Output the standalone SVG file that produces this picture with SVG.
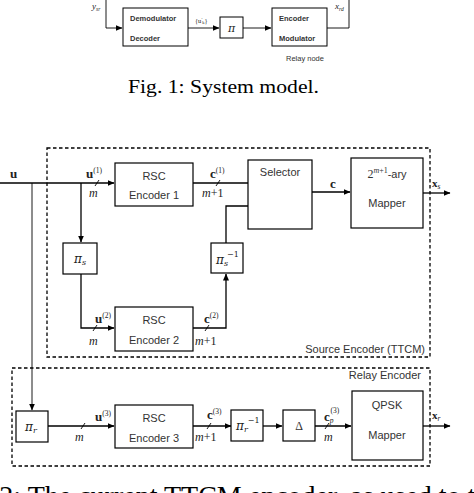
<svg xmlns="http://www.w3.org/2000/svg" width="474" height="493" viewBox="0 0 474 493">
<style>
.box{fill:#fff;stroke:#000;stroke-width:1.2}
.ln{fill:none;stroke:#000;stroke-width:1.3}
.thin{fill:none;stroke:#000;stroke-width:0.9}
.dash{fill:none;stroke:#000;stroke-width:1.3;stroke-dasharray:3.5,2.5}
.lbl{font-family:"Liberation Sans",Arial,sans-serif;font-size:11px;fill:#333;text-anchor:middle}
.top{font-family:"Liberation Sans",Arial,sans-serif;font-size:7.5px;font-weight:bold;fill:#333}
.mi{font-family:"Liberation Serif","Times New Roman",serif;font-style:italic;font-size:12px;fill:#222}
.mb{font-family:"Liberation Serif","Times New Roman",serif;font-weight:bold;font-size:13px;fill:#222}
.sup{font-family:"Liberation Serif","Times New Roman",serif;font-size:7.5px;font-weight:normal;fill:#222}
.pi{font-family:"DejaVu Serif","Liberation Serif",serif;font-style:italic;font-size:12px;fill:#222}
.cap{font-family:"Liberation Serif","Times New Roman",serif;font-size:19px;fill:#000}
</style>
<defs>
<marker id="ar" markerWidth="7" markerHeight="6" refX="6.5" refY="3" orient="auto" markerUnits="userSpaceOnUse">
<path d="M0,0 L7,3 L0,6 Z" fill="#000"/>
</marker>
</defs>

<g id="connectors">
<polyline class="thin" points="106,0 106,28 122,28" marker-end="url(#ar)"/>
<line class="thin" x1="188" y1="28" x2="219" y2="28" marker-end="url(#ar)"/>
<line class="thin" x1="243" y1="28" x2="271" y2="28" marker-end="url(#ar)"/>
<polyline class="thin" points="327,28 349,28 349,0"/>
<line class="ln" x1="0" y1="183" x2="114" y2="183" marker-end="url(#ar)"/>
<line class="thin" x1="32" y1="183" x2="32" y2="410" marker-end="url(#ar)"/>
<line class="ln" x1="81" y1="183" x2="81" y2="242" marker-end="url(#ar)"/>
<polyline class="ln" points="81,274 81,328 114,328" marker-end="url(#ar)"/>
<line class="ln" x1="193" y1="183" x2="257" y2="183" marker-end="url(#ar)"/>
<polyline class="ln" points="193,328 226,328 226,274" marker-end="url(#ar)"/>
<polyline class="ln" points="226,243 226,206 257,206" marker-end="url(#ar)"/>
<line class="ln" x1="263" y1="184" x2="279" y2="192"/>
<line x1="279" y1="192" x2="263" y2="205" stroke="#000" stroke-width="1" stroke-dasharray="2,2"/>
<line class="ln" x1="279" y1="192" x2="350" y2="192" marker-end="url(#ar)"/>
<line class="ln" x1="423" y1="193" x2="450" y2="193" marker-end="url(#ar)"/>
<line class="ln" x1="48" y1="426" x2="114" y2="426" marker-end="url(#ar)"/>
<line class="ln" x1="193" y1="426" x2="231" y2="426" marker-end="url(#ar)"/>
<line class="ln" x1="263" y1="426" x2="282" y2="426" marker-end="url(#ar)"/>
<line class="ln" x1="315" y1="426" x2="351" y2="426" marker-end="url(#ar)"/>
<line class="ln" x1="423" y1="426" x2="450" y2="426" marker-end="url(#ar)"/>
<g stroke="#000" stroke-width="0.9">
<line x1="95" y1="186" x2="99" y2="180"/>
<line x1="216" y1="186" x2="220" y2="180"/>
<line x1="93" y1="331" x2="97" y2="325"/>
<line x1="205" y1="331" x2="209" y2="325"/>
<line x1="81" y1="429" x2="85" y2="423"/>
<line x1="207" y1="429" x2="211" y2="423"/>
<line x1="325" y1="429" x2="329" y2="423"/>
</g>
</g>

<g id="fig1">
<text x="92" y="9" class="mi" style="font-size:9px">y<tspan class="sup" style="font-style:italic;font-size:5.5px" dy="1.5">sr</tspan></text>
<text x="335" y="9" class="mi" style="font-size:9px">x<tspan class="sup" style="font-style:italic;font-size:5.5px" dy="1.5">rd</tspan></text>
<g id="demod"><rect class="box" x="123" y="8" width="65" height="38" style="stroke-width:1"/>
<text class="top" x="130" y="21">Demodulator</text><text class="top" x="130" y="41">Decoder</text></g>
<text x="195" y="23" class="sup" style="font-size:6.5px">{u<tspan font-size="4.5" dy="-2">′</tspan><tspan font-size="4.5" dy="3">k</tspan><tspan dy="-1">}</tspan></text>
<g id="pi1"><rect class="box" x="220" y="17" width="23" height="21" style="stroke-width:1"/>
<text class="pi" x="231.5" y="32" text-anchor="middle" style="font-size:11px">π</text></g>
<g id="encmod"><rect class="box" x="272" y="8" width="55" height="38" style="stroke-width:1"/>
<text class="top" x="279" y="21">Encoder</text><text class="top" x="279" y="41">Modulator</text></g>
<text class="top" x="286" y="61" style="font-weight:normal">Relay node</text>
<text class="cap" x="128" y="93" textLength="191" lengthAdjust="spacingAndGlyphs">Fig. 1: System model.</text>
</g>

<g id="source-encoder">
<rect class="dash" x="47" y="148" width="383" height="209"/>
<text x="425" y="353" class="lbl" style="text-anchor:end;font-size:11px">Source Encoder (TTCM)</text>
</g>
<g id="relay-encoder">
<rect class="dash" x="12" y="368" width="418" height="98"/>
<text x="421" y="379" class="lbl" style="text-anchor:end;font-size:11px">Relay Encoder</text>
</g>

<g id="labels">
<text class="mb" x="10" y="178">u</text>
<text class="mb" x="86" y="178">u<tspan class="sup" dy="-5">(1)</tspan></text>
<text class="mi" x="89" y="197">m</text>
<text class="mb" x="210" y="178">c<tspan class="sup" dy="-5">(1)</tspan></text>
<text class="mi" x="202" y="197">m<tspan font-style="normal">+1</tspan></text>
<text class="mb" x="95" y="323">u<tspan class="sup" dy="-5">(2)</tspan></text>
<text class="mi" x="89" y="345">m</text>
<text class="mb" x="204" y="323">c<tspan class="sup" dy="-5">(2)</tspan></text>
<text class="mi" x="195" y="345">m<tspan font-style="normal">+1</tspan></text>
<text class="mb" x="330" y="188">c</text>
<text class="mb" x="432" y="187" style="font-size:11px">x<tspan class="sup" style="font-style:italic" dy="2">s</tspan></text>
<text class="mb" x="95" y="421">u<tspan class="sup" dy="-5">(3)</tspan></text>
<text class="mi" x="75" y="441">m</text>
<text class="mb" x="207" y="419">c<tspan class="sup" dy="-5">(3)</tspan></text>
<text class="mi" x="195" y="441">m<tspan font-style="normal">+1</tspan></text>
<text class="mb" x="324" y="421">c<tspan class="sup" style="font-style:italic" dy="2">p</tspan><tspan class="sup" dy="-10" dx="-3">(3)</tspan></text>
<text class="mi" x="324" y="441">m</text>
<text class="mb" x="432" y="419" style="font-size:11px">x<tspan class="sup" style="font-style:italic" dy="2">r</tspan></text>
</g>

<g id="rsc1"><rect class="box" x="115" y="163" width="78" height="43"/>
<text class="lbl" x="154" y="180">RSC</text><text class="lbl" x="154" y="199">Encoder 1</text></g>
<g id="pis"><rect class="box" x="63" y="243" width="34" height="31"/>
<text class="pi" x="74" y="263">π<tspan font-size="8" dy="2">s</tspan></text></g>
<g id="rsc2"><rect class="box" x="115" y="307" width="78" height="44"/>
<text class="lbl" x="154" y="324">RSC</text><text class="lbl" x="154" y="344">Encoder 2</text></g>
<g id="pisinv"><rect class="box" x="211" y="243" width="32" height="30"/>
<text class="pi" x="216" y="264">π<tspan font-size="8" dy="2">s</tspan><tspan font-size="8" font-style="normal" dy="-9" dx="-1">−1</tspan></text></g>
<g id="selector"><rect class="box" x="248" y="160" width="64" height="69"/>
<text class="lbl" x="280" y="176">Selector</text></g>
<g id="mapper"><rect class="box" x="351" y="158" width="72" height="70"/>
<text class="lbl" x="387" y="178"><tspan font-family="Liberation Serif,serif" font-size="12">2</tspan><tspan font-family="Liberation Serif,serif" font-style="italic" font-size="8" dy="-5">m</tspan><tspan font-family="Liberation Serif,serif" font-size="8">+1</tspan><tspan dy="5">-ary</tspan></text>
<text class="lbl" x="387" y="207">Mapper</text></g>
<g id="pir"><rect class="box" x="16" y="411" width="32" height="31"/>
<text class="pi" x="25" y="431">π<tspan font-size="8" dy="2">r</tspan></text></g>
<g id="rsc3"><rect class="box" x="115" y="405" width="78" height="43"/>
<text class="lbl" x="154" y="422">RSC</text><text class="lbl" x="154" y="442">Encoder 3</text></g>
<g id="pirinv"><rect class="box" x="231" y="410" width="32" height="31"/>
<text class="pi" x="236" y="430">π<tspan font-size="8" dy="2">r</tspan><tspan font-size="8" font-style="normal" dy="-9">−1</tspan></text></g>
<g id="delta"><rect class="box" x="283" y="410" width="32" height="31"/>
<text class="lbl" x="299" y="430" style="font-family:'Liberation Serif',serif;font-size:12px">Δ</text></g>
<g id="qpsk"><rect class="box" x="352" y="391" width="71" height="69"/>
<text class="lbl" x="387" y="409">QPSK</text><text class="lbl" x="387" y="439">Mapper</text></g>

<text class="cap" x="-52" y="505" style="font-size:28px">Fig. 2: The current TTCM encoder, as used to the</text>
</svg>
